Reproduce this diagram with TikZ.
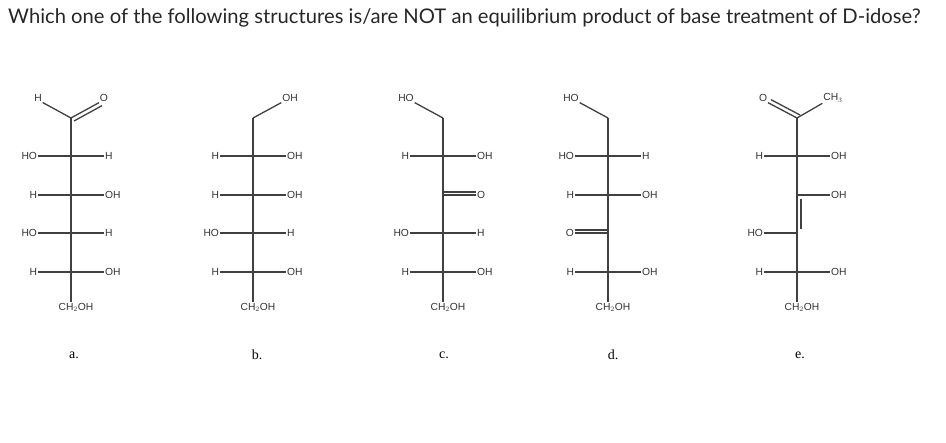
\documentclass[tikz,border=0pt]{standalone}
\usepackage{fontspec}
\usetikzlibrary{calc}
\setmainfont{Liberation Sans}
\newfontfamily\titlefont{Lato}
\newfontfamily\serifletter{Liberation Serif}
\begin{document}
\begin{tikzpicture}[x=1pt,y=-1pt,
  lbl/.style={font=\fontsize{10.3}{11}\selectfont, inner sep=0.8pt, text=black!80},
  bond/.style={line width=1.3pt, black!75},
  letter/.style={font=\serifletter\fontsize{14}{16}\selectfont}]
\useasboundingbox (0,0) rectangle (946,443);
\node[anchor=west, font=\titlefont\fontsize{20.2}{22}\selectfont, inner sep=0, text=black!85] (title) at (8,18) {Which one of the following structures is/are NOT an equilibrium product of base treatment of D-idose?};
\newcommand\yy[1]{\ifcase#1 118\or 156\or 195\or 233\or 272\fi}
% backbone
\newcommand\spine[2]{%
  \coordinate (#1c0) at (#2,118);
  \coordinate (#1c1) at (#2,156);
  \coordinate (#1c2) at (#2,195);
  \coordinate (#1c3) at (#2,233);
  \coordinate (#1c4) at (#2,272);
  \node[lbl, anchor=north] (#1B) at (#2+5,302) {CH$_2$OH};
  \draw[bond] (#1c0) -- (#2,302);}
% full row: name, index, x, left, right
\newcommand\hrow[5]{%
  \node[lbl, anchor=east] (#1L#2) at (#3-33,\yy{#2}) {#4};
  \node[lbl, anchor=west] (#1R#2) at (#3+33,\yy{#2}) {#5};
  \draw[bond] (#1L#2.east) -- (#1c#2) -- (#1R#2.west);}
% a
\spine{a}{71}
\node[lbl] (aH) at (38,98) {H};
\node[lbl] (aO) at (104,98) {O};
\draw[bond] (aH.south east) -- (ac0);
\draw[bond] (ac0) -- (aO.south west);
\draw[bond] ($(ac0)+(3,3)$) -- ($(aO.south west)+(3,3)$);
\hrow{a}{1}{71}{HO}{H}
\hrow{a}{2}{71}{H}{OH}
\hrow{a}{3}{71}{HO}{H}
\hrow{a}{4}{71}{H}{OH}
% b
\spine{b}{253}
\node[lbl] (bO) at (290,98) {OH};
\draw[bond] (bc0) -- (bO.south west);
\hrow{b}{1}{253}{H}{OH}
\hrow{b}{2}{253}{H}{OH}
\hrow{b}{3}{253}{HO}{H}
\hrow{b}{4}{253}{H}{OH}
% c
\spine{c}{443}
\node[lbl] (cO) at (406,98) {HO};
\draw[bond] (cO.south east) -- (cc0);
\hrow{c}{1}{443}{H}{OH}
\node[lbl, anchor=west] (cR2) at (476,195) {O};
\draw[bond] (cc2) -- (cR2.west);
\draw[bond] ($(cc2)+(0,-3)$) -- ($(cR2.west)+(0,-3)$);
\hrow{c}{3}{443}{HO}{H}
\hrow{c}{4}{443}{H}{OH}
% d
\spine{d}{608}
\node[lbl] (dO) at (571,98) {HO};
\draw[bond] (dO.south east) -- (dc0);
\hrow{d}{1}{608}{HO}{H}
\hrow{d}{2}{608}{H}{OH}
\node[lbl, anchor=east] (dL3) at (575,233) {O};
\draw[bond] (dL3.east) -- (dc3);
\draw[bond] ($(dL3.east)+(0,-3)$) -- ($(dc3)+(0,-3)$);
\hrow{d}{4}{608}{H}{OH}
% e
\spine{e}{797}
\node[lbl] (eO) at (763,98) {O};
\node[lbl] (eC) at (833,98) {CH$_3$};
\draw[bond] (eO.south east) -- (ec0);
\draw[bond] ($(eO.south east)+(3,-3)$) -- ($(ec0)+(3,-3)$);
\draw[bond] (ec0) -- (eC.south west);
\hrow{e}{1}{797}{H}{OH}
\node[lbl, anchor=west] (eR2) at (830,195) {OH};
\draw[bond] (ec2) -- (eR2.west);
\node[lbl, anchor=east] (eL3) at (764,233) {HO};
\draw[bond] (eL3.east) -- (ec3);
\draw[bond] ($(ec2)+(4,4)$) -- ($(ec3)+(4,-4)$);
\hrow{e}{4}{797}{H}{OH}
% letters
\node[letter] (la) at (74,355) {a.};
\node[letter] (lb) at (257,355) {b.};
\node[letter] (lc) at (444,355) {c.};
\node[letter] (ld) at (613,355) {d.};
\node[letter] (le) at (800,355) {e.};
\end{tikzpicture}
\end{document}
